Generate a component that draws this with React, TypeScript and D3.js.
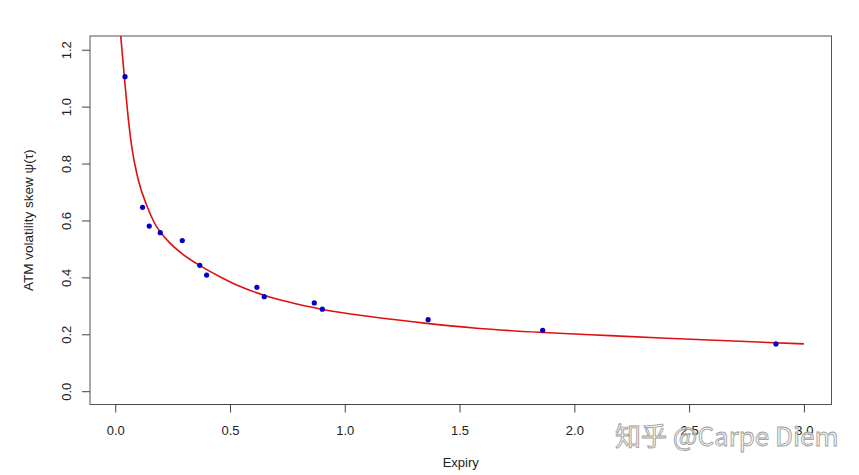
import React from 'react';
import * as d3 from 'd3';

// observed skew estimates (expiry in years, skew)
const expiry = [0.0405, 0.117, 0.146, 0.194, 0.29, 0.366, 0.396, 0.615, 0.647, 0.865, 0.9, 1.361, 1.86, 2.876];
const skew = [1.107, 0.648, 0.582, 0.559, 0.531, 0.444, 0.41, 0.367, 0.334, 0.312, 0.29, 0.253, 0.216, 0.168];

// fitted power-law curve
const fitTau = [0.0218, 0.0375, 0.0523, 0.0697, 0.0984, 0.135, 0.171, 0.194, 0.2365, 0.294, 0.367, 0.454, 0.527, 0.643, 0.745, 0.897, 1.108, 1.355, 1.572, 1.862, 2.153, 2.4, 2.69, 2.998];
const fitPsi = [1.25, 1.107, 0.979, 0.861, 0.744, 0.655, 0.59, 0.562, 0.522, 0.482, 0.443, 0.404, 0.375, 0.34, 0.317, 0.29, 0.264, 0.24, 0.223, 0.208, 0.197, 0.188, 0.178, 0.168];

const xTicks = [0, 0.5, 1, 1.5, 2, 2.5, 3];
const yTicks = [0, 0.2, 0.4, 0.6, 0.8, 1, 1.2];

const W = 859;
const H = 475;
const box = { left: 90, right: 831.5, top: 36, bottom: 404.5 };
const font = '"Liberation Sans", Arial, sans-serif';

export default function App() {
  const x = d3.scaleLinear().domain([-0.112, 3.118]).range([box.left, box.right]);
  const y = d3.scaleLinear().domain([-0.045, 1.25]).range([box.bottom, box.top]);

  const fit = fitTau.map((t, i) => [t, fitPsi[i]] as [number, number]);
  const line = d3.line<[number, number]>()
    .x(d => x(d[0]))
    .y(d => y(d[1]))
    .curve(d3.curveMonotoneX);

  return (
    <svg width={W} height={H} style={{ position: 'absolute', left: 0, top: 0, background: '#fff' }}>
      <defs>
        <clipPath id="plot">
          <rect x={box.left} y={box.top} width={box.right - box.left} height={box.bottom - box.top} />
        </clipPath>
      </defs>
      <rect x={0} y={0} width={W} height={H} fill="#fff" />

      {/* box */}
      <rect x={box.left} y={box.top} width={box.right - box.left} height={box.bottom - box.top}
        fill="none" stroke="#555" strokeWidth={1} />

      {/* x axis */}
      <line x1={x(0)} x2={x(3)} y1={box.bottom} y2={box.bottom} stroke="#444" />
      {xTicks.map(t => (
        <g key={'x' + t}>
          <line x1={x(t)} x2={x(t)} y1={box.bottom} y2={box.bottom + 8} stroke="#444" />
          <text x={x(t)} y={435} textAnchor="middle" fontFamily={font} fontSize={13} fill="#222">
            {t.toFixed(1)}
          </text>
        </g>
      ))}
      <text x={(box.left + box.right) / 2} y={467} textAnchor="middle" fontFamily={font} fontSize={13} fill="#222">
        Expiry
      </text>

      {/* y axis */}
      {yTicks.map(t => (
        <g key={'y' + t}>
          <line x1={box.left - 8} x2={box.left} y1={y(t)} y2={y(t)} stroke="#444" />
          <text transform={`translate(71,${y(t)}) rotate(-90)`} textAnchor="middle" fontFamily={font}
            fontSize={13} fill="#222">
            {t.toFixed(1)}
          </text>
        </g>
      ))}
      <text transform={`translate(33,${(box.top + box.bottom) / 2}) rotate(-90)`} textAnchor="middle"
        fontFamily={font} fontSize={13.5} fill="#222">
        ATM volatility skew ψ(τ)
      </text>

      {/* fitted curve */}
      <path d={line(fit) || ''} fill="none" stroke="#e01010" strokeWidth={1.6} clipPath="url(#plot)" />

      {/* estimates */}
      {expiry.map((t, i) => (
        <circle key={'p' + i} cx={x(t)} cy={y(skew[i])} r={2.6} fill="#0000cc" />
      ))}

      {/* watermark */}
      <text x={615} y={446} fontFamily={'"Noto Sans CJK SC", "Liberation Sans", sans-serif'} fontSize={26}
        fill="#f2f2f2" fillOpacity={0.75} stroke="#9a9a9a" strokeWidth={0.8}>
        知乎 @Carpe Diem
      </text>
    </svg>
  );
}
